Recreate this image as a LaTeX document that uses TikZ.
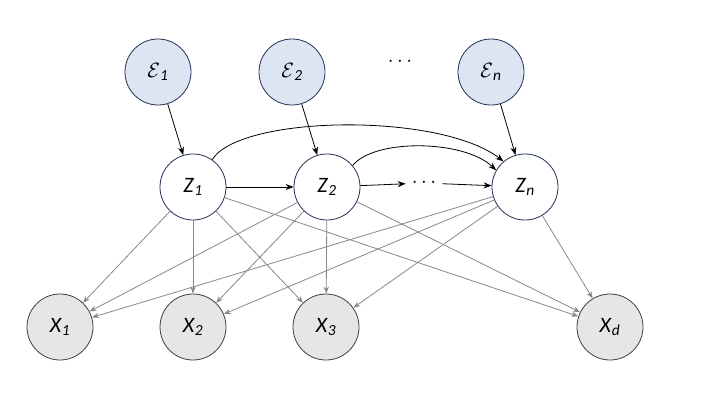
\documentclass[tikz,border=0pt]{standalone}
\usepackage{fontspec}
\setmainfont{Carlito}
\usetikzlibrary{positioning,arrows.meta}
\definecolor{epsfill}{RGB}{221,229,243}
\definecolor{nodeline}{RGB}{35,50,85}
\definecolor{xfill}{RGB}{230,230,230}
\definecolor{edgegray}{RGB}{135,135,135}
\newcommand{\lbl}[2]{\textit{#1}\textsubscript{\textit{#2}}}
\begin{document}
\begin{tikzpicture}[x=1pt,y=-1pt,
    var/.style={circle, draw=nodeline, thick, minimum size=66pt, inner sep=0pt,
      font=\fontsize{22}{26}\selectfont},
    noise/.style={var, fill=epsfill},
    latent/.style={var, fill=white},
    obs/.style={var, draw=black!75, fill=xfill},
    cause/.style={-{Stealth[length=8pt]}, thick, black},
    load/.style={-{Stealth[length=7pt]}, thick, edgegray}]
  \useasboundingbox (0,0) rectangle (717,408);
  % noise
  \node[noise] (E1) at (158,72) {$\mathcal{E}$\textsubscript{\textit{1}}};
  \node[noise] (E2) at (292,72) {$\mathcal{E}$\textsubscript{\textit{2}}};
  \node[noise] (En) at (491,72) {$\mathcal{E}$\textsubscript{\textit{n}}};
  \node[font=\fontsize{22}{26}\selectfont] (edots) at (400,62) {$\cdots$};
  % latent
  \node[latent] (Z1) at (193,187) {\lbl{Z}{1}};
  \node[latent] (Z2) at (327,187) {\lbl{Z}{2}};
  \node[latent] (Zn) at (525,187) {\lbl{Z}{n}};
  \node[font=\fontsize{22}{26}\selectfont, inner sep=6pt] (zdots) at (424,183) {$\cdots$};
  % observed
  \node[obs] (X1) at (60,327) {\lbl{X}{1}};
  \node[obs] (X2) at (193,327) {\lbl{X}{2}};
  \node[obs] (X3) at (326,327) {\lbl{X}{3}};
  \node[obs] (Xd) at (610,327) {\lbl{X}{d}};

  \draw[cause] (E1) -- (Z1);
  \draw[cause] (E2) -- (Z2);
  \draw[cause] (En) -- (Zn);
  \draw[cause] (Z1) -- (Z2);
  \draw[cause] (Z2) -- (zdots);
  \draw[cause] (zdots) -- (Zn);
  \draw[cause] (Z1.55) .. controls (240,115) and (440,112) .. (Zn.130);
  \draw[cause] (Z2.40) .. controls (375,138) and (465,140) .. (Zn.150);

  \foreach \z in {Z1,Z2,Zn}
    \foreach \x in {X1,X2,X3,Xd}
      \draw[load] (\z) -- (\x);
\end{tikzpicture}
\end{document}
